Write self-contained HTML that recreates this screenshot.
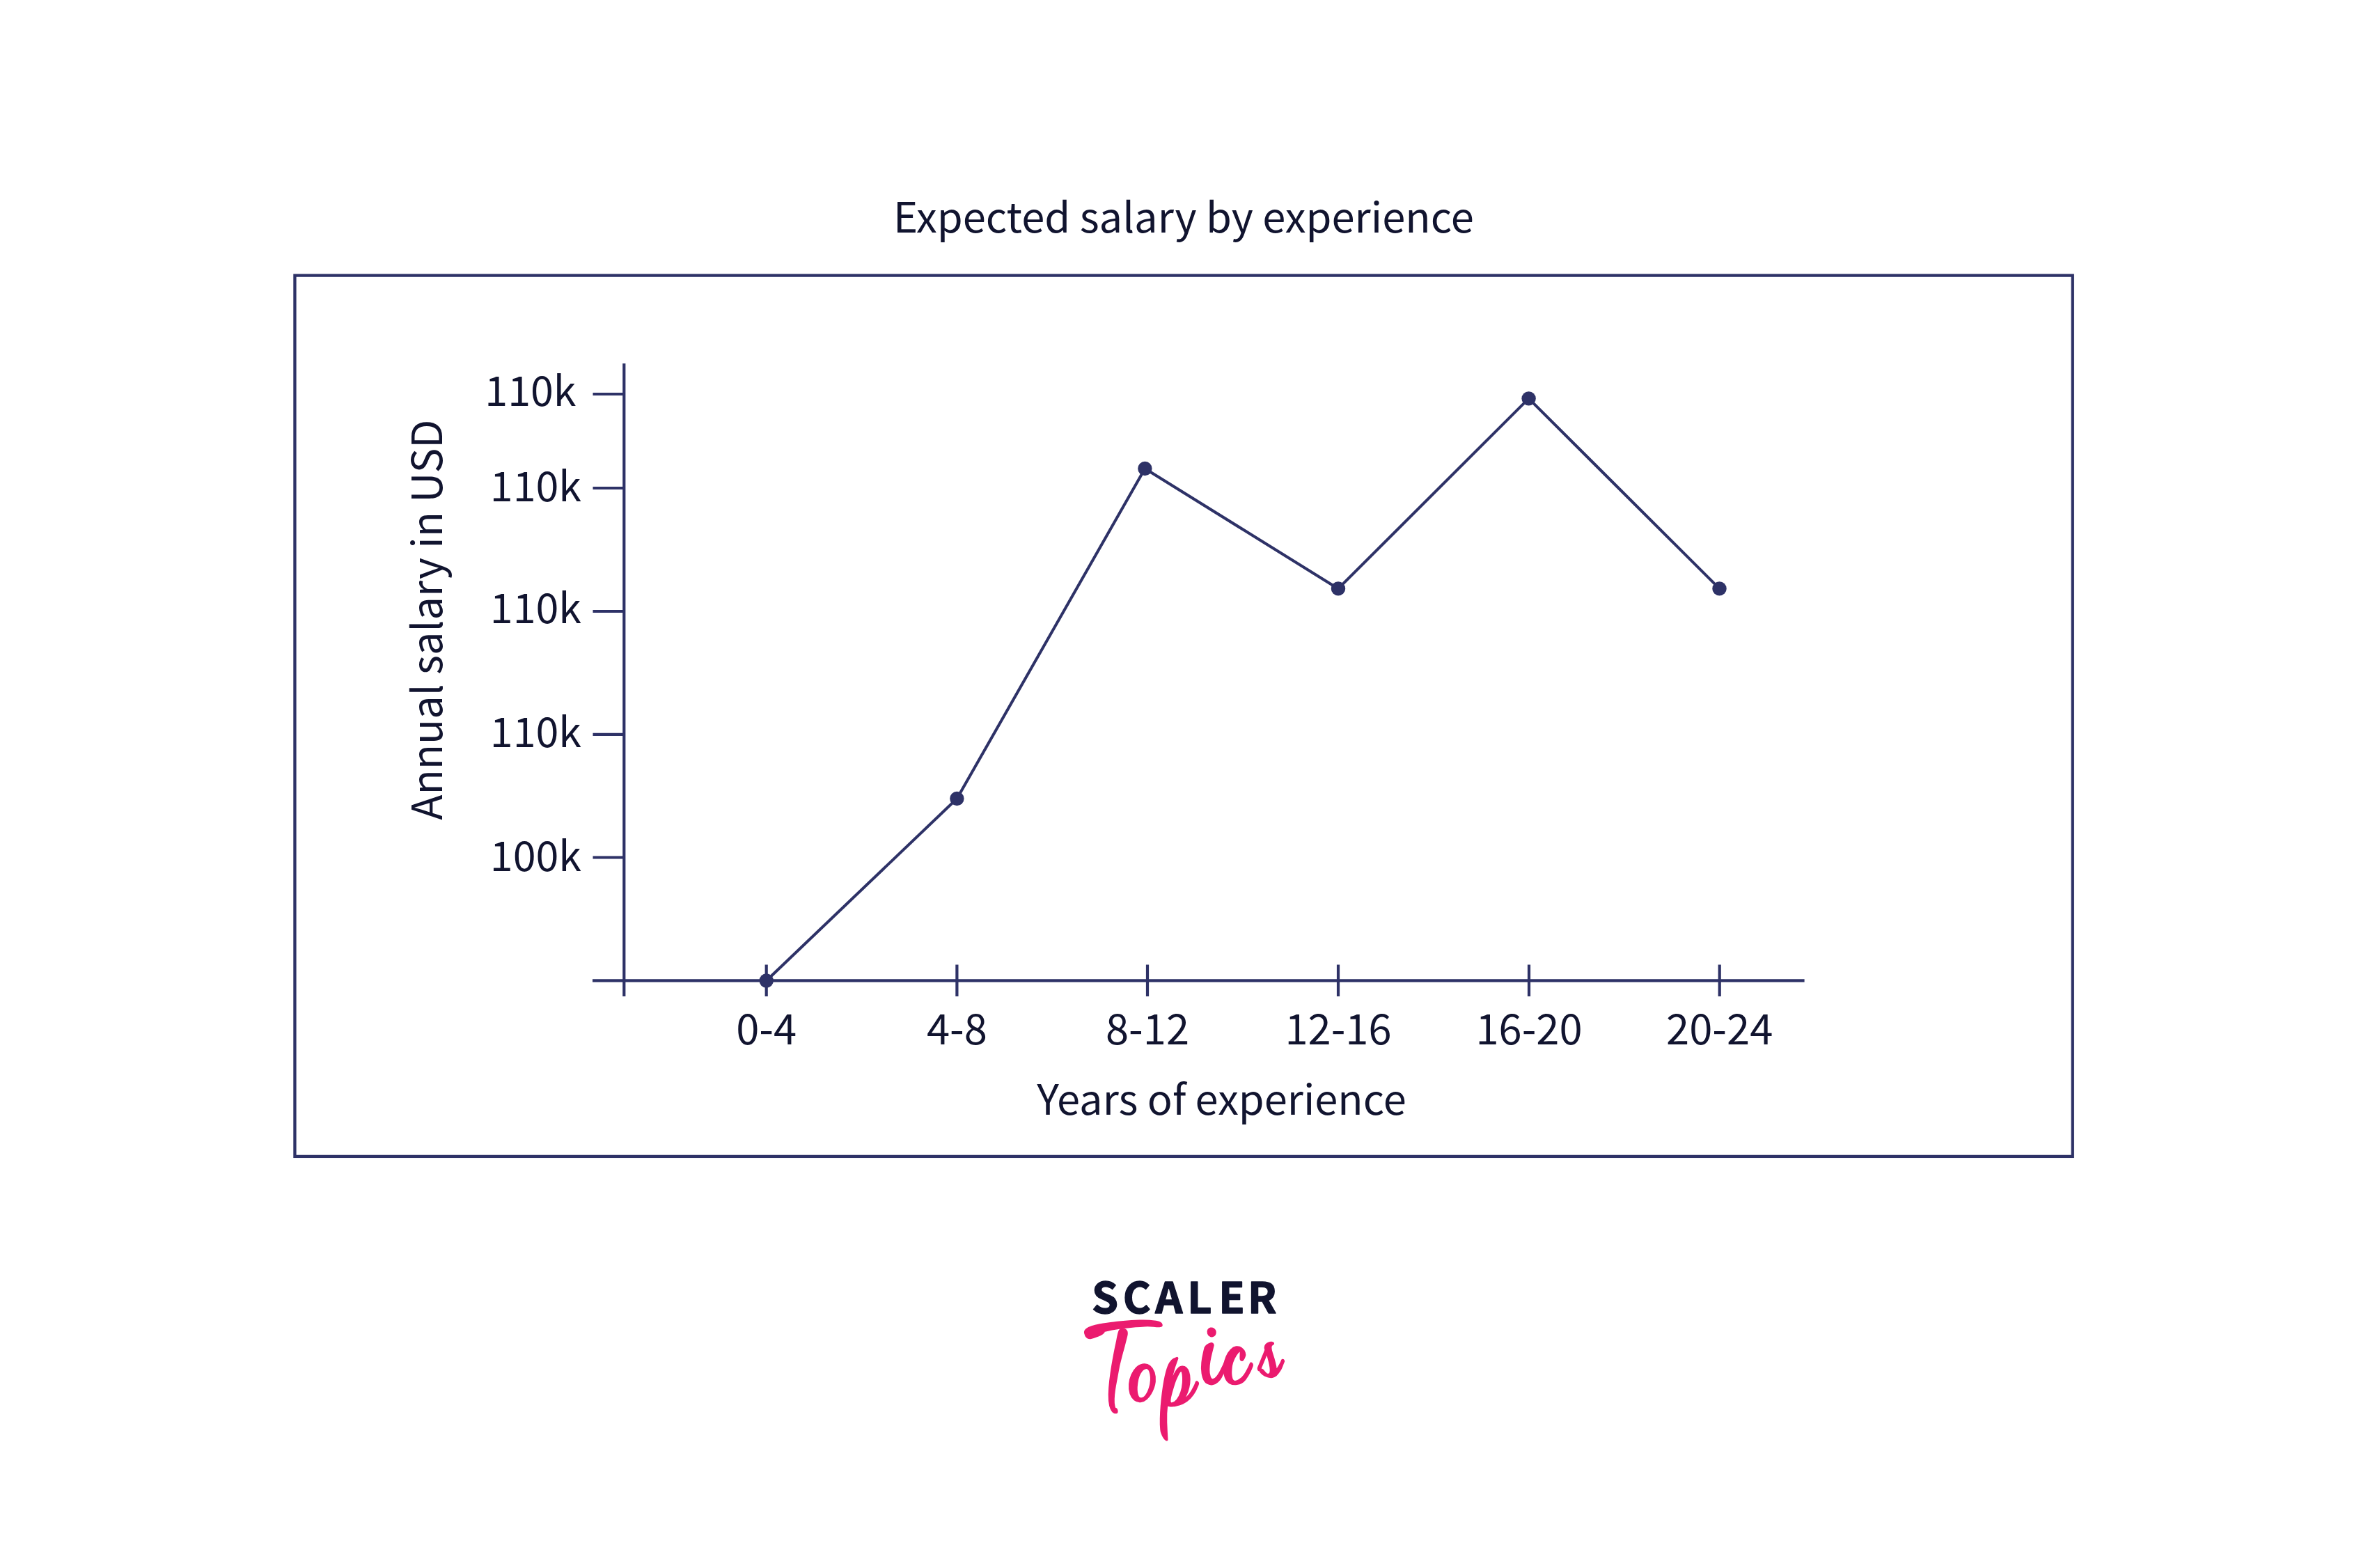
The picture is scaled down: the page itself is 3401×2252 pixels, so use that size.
<!DOCTYPE html>
<html lang="en">
<head>
<meta charset="utf-8">
<title>Expected salary by experience</title>
<style>
html,body{margin:0;padding:0;background:#ffffff;}
body{width:3401px;height:2252px;overflow:hidden;position:relative;}
svg{position:absolute;left:0;top:0;display:block;}
.t{font-family:"Noto Sans CJK JP","Liberation Sans",sans-serif;font-weight:400;fill:#11142f;}
</style>
</head>
<body>
<svg width="3401" height="2252" viewBox="0 0 3401 2252">
  <!-- frame -->
  <rect x="423.45" y="395.6" width="2553.3" height="1265.3" fill="none" stroke="#2e3267" stroke-width="4.3"/>
  <g stroke="#2e3267" stroke-width="4.2" fill="none">
    <!-- y axis -->
    <line x1="896.3" y1="522" x2="896.3" y2="1431"/>
    <!-- y ticks -->
    <line x1="851.5" y1="566" x2="896.3" y2="566"/>
    <line x1="851.5" y1="701" x2="896.3" y2="701"/>
    <line x1="851.5" y1="878" x2="896.3" y2="878"/>
    <line x1="851.5" y1="1054.9" x2="896.3" y2="1054.9"/>
    <line x1="851.5" y1="1231.5" x2="896.3" y2="1231.5"/>
    <!-- x axis -->
    <line x1="851" y1="1408.4" x2="2591.6" y2="1408.4"/>
    <!-- x ticks -->
    <line x1="1100.7" y1="1385.5" x2="1100.7" y2="1431"/>
    <line x1="1374.4" y1="1385.5" x2="1374.4" y2="1431"/>
    <line x1="1648" y1="1385.5" x2="1648" y2="1431"/>
    <line x1="1922" y1="1385.5" x2="1922" y2="1431"/>
    <line x1="2196" y1="1385.5" x2="2196" y2="1431"/>
    <line x1="2469.7" y1="1385.5" x2="2469.7" y2="1431"/>
    <!-- data -->
    <polyline stroke-width="4.1" stroke-linejoin="round" points="1100.7,1408.5 1374.4,1147 1644.4,673 1922,845.4 2195.6,572.4 2469.5,845.4"/>
  </g>
  <g fill="#2e3267">
    <circle cx="1100.7" cy="1408.5" r="10.2"/>
    <circle cx="1374.4" cy="1147" r="10.2"/>
    <circle cx="1644.4" cy="673" r="10.2"/>
    <circle cx="1922" cy="845.4" r="10.2"/>
    <circle cx="2195.6" cy="572.4" r="10.2"/>
    <circle cx="2469.5" cy="845.4" r="10.2"/>
  </g>
  <!-- title -->
  <text class="t" x="1699.8" y="334" font-size="59.7" text-anchor="middle">Expected salary by experience</text>
  <!-- y labels -->
  <text class="t" x="827.5" y="582.8" font-size="59.2" text-anchor="end">110k</text>
  <text class="t" x="835" y="719.8" font-size="59.2" text-anchor="end">110k</text>
  <text class="t" x="835" y="894.7" font-size="59.2" text-anchor="end">110k</text>
  <text class="t" x="835" y="1072.8" font-size="59.2" text-anchor="end">110k</text>
  <text class="t" x="835" y="1250.8" font-size="59.2" text-anchor="end">100k</text>
  <!-- x labels -->
  <text class="t" x="1100.7" y="1500" font-size="59.7" text-anchor="middle">0-4</text>
  <text class="t" x="1374.4" y="1500" font-size="59.7" text-anchor="middle">4-8</text>
  <text class="t" x="1648" y="1500" font-size="59.7" text-anchor="middle">8-12</text>
  <text class="t" x="1922" y="1500" font-size="59.7" text-anchor="middle">12-16</text>
  <text class="t" x="2196" y="1500" font-size="59.7" text-anchor="middle">16-20</text>
  <text class="t" x="2469.7" y="1500" font-size="59.7" text-anchor="middle">20-24</text>
  <!-- axis titles -->
  <text class="t" x="1754.4" y="1601" font-size="59.6" text-anchor="middle">Years of experience</text>
  <text class="t" x="0" y="0" font-size="59.6" text-anchor="middle" transform="translate(635 890.3) rotate(-90)">Annual salary in USD</text>
  <!-- logo -->
  <text x="1568.1 1612.7 1659.3 1705.3 1750.3 1792" y="1886" font-family="'Noto Sans CJK JP','Liberation Sans',sans-serif" font-weight="700" font-size="61" fill="#11142f" stroke="#11142f" stroke-width="1.4" stroke-linejoin="round">SCALER</text>
  <text aria-label="Topics" transform="skewX(10.0)" fill="#eb1b6f" stroke="#eb1b6f" stroke-linejoin="round"><tspan x="1224.4" y="2017.7" rotate="-4" font-family="'Hurricane','Liberation Serif',cursive" font-size="190.3" stroke-width="4" textLength="54.8" lengthAdjust="spacingAndGlyphs">T</tspan><tspan x="1271.0" y="2013.2" rotate="-9" font-family="'Birthstone','Liberation Serif',cursive" font-size="144.9" stroke-width="3.5">o</tspan><tspan x="1317.2" y="2016.4" rotate="-9" font-family="'Birthstone','Liberation Serif',cursive" font-size="141.3" stroke-width="3.5">p</tspan><tspan x="1378.1" y="1989.5" rotate="-9" font-family="'Birthstone','Liberation Serif',cursive" font-size="167.5" stroke-width="3.5">i</tspan><tspan x="1410.5" y="1987.4" rotate="-9" font-family="'Birthstone','Liberation Serif',cursive" font-size="142.5" stroke-width="3.5">c</tspan><tspan x="1463.5" y="1976.9" rotate="-9" font-family="'Birthstone','Liberation Serif',cursive" font-size="114.0" stroke-width="3.5">s</tspan></text>
</svg>
</body>
</html>
